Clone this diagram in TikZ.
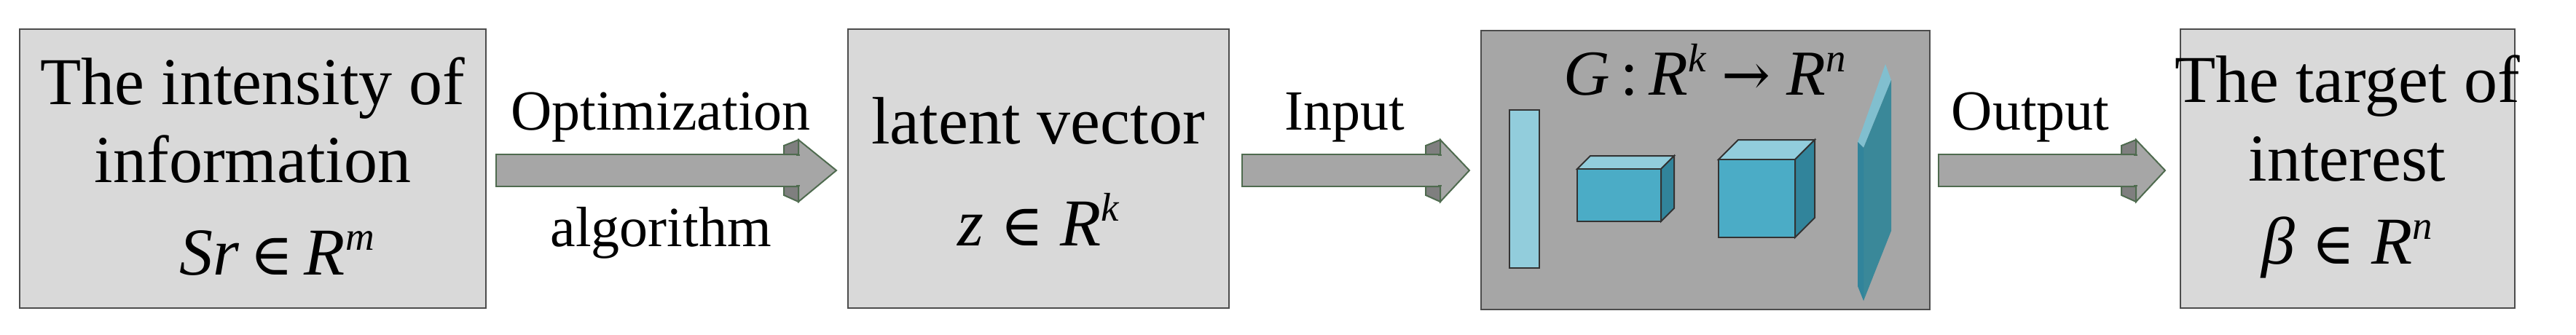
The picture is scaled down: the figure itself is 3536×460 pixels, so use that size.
\documentclass[tikz,border=0pt]{standalone}
\usepackage{fontspec}
\setmainfont{Liberation Serif}
\newfontfamily\symf{DejaVu Serif}
\definecolor{boxl}{HTML}{D9D9D9}
\definecolor{boxd}{HTML}{A6A6A6}
\definecolor{arrb}{HTML}{4F6B4F}
\definecolor{notch}{HTML}{7F7F7F}
\definecolor{cfront}{HTML}{4BACC6}
\definecolor{ctop}{HTML}{92CDDC}
\definecolor{cside}{HTML}{31849B}
\definecolor{slab}{HTML}{3A8899}
\begin{document}
\begin{tikzpicture}[x=1pt,y=-1pt,
  box/.style={draw=black!70,line width=2pt,fill=boxl},
  big/.style={font=\fontsize{92}{100}\selectfont,anchor=base,inner sep=0pt},
  lab/.style={font=\fontsize{78}{90}\selectfont,anchor=base,inner sep=0pt},
  arrshaft/.style={draw=arrb,line width=2pt,fill=boxd},
  cube/.style={draw=black!80,line width=2pt}]
\useasboundingbox (0,0) rectangle (3536,460);
\fill[white] (0,0) rectangle (3536,460);
% boxes
\draw[box] (27,40) rectangle (667,423);
\draw[box] (1164,40) rectangle (1687,423);
\draw[box,fill=boxd] (2033,42) rectangle (2649,425);
\draw[box] (2993,40) rectangle (3452,423);
\coordinate (b1) at (27,40);
% arrows
\foreach \s/\n/\t in {681/1096/1148, 1705/1977/2017, 2661/2932/2972}{
  \draw[arrshaft] (\s,212) rectangle (\n,256);
  \draw[draw=arrb,line width=2pt,fill=notch] (\n-20,200) -- (\n,192) -- (\n,212) -- (\n-20,212) -- cycle;
  \draw[draw=arrb,line width=2pt,fill=notch] (\n-20,256) -- (\n,256) -- (\n,277) -- (\n-20,268) -- cycle;
  \draw[draw=arrb,line width=2pt,fill=boxd] (\n,192) -- (\t,234) -- (\n,277) -- cycle;
  \draw[arrb,line width=2pt,fill=boxd] (\n-2,213) rectangle (\n+1,255);
  \fill[boxd] (\n-3,214) rectangle (\n+2,254);
}
% texts box1
\node[big] (t1a) at (347,143) {The intensity of};
\node[big] (t1b) at (347,250) {information};
\node[big] (t1c) at (380,377) {\itshape Sr\,{\upshape\symf\fontsize{80}{90}\selectfont ∈}\,R\raisebox{34pt}{\fontsize{55}{60}\selectfont m}};
% labels
\node[lab] (l1) at (907,178) {Optimization};
\node[lab] (l2) at (907,338) {algorithm};
\node[lab] (l3) at (1846,178) {Input};
\node[lab] (l4) at (2787,178) {Output};
% box2
\node[big] (t2a) at (1425,197) {latent vector};
\node[big] (t2b) at (1425,337) {\itshape z {\upshape\symf\fontsize{80}{90}\selectfont ∈} R\raisebox{34pt}{\fontsize{55}{60}\selectfont k}};
% box4
\node[big] (t4a) at (3222,140) {The target of};
\node[big] (t4b) at (3222,248) {interest};
\node[big] (t4c) at (3222,362) {\itshape β {\upshape\symf\fontsize{80}{90}\selectfont ∈} R\raisebox{34pt}{\fontsize{55}{60}\selectfont n}};
% G title
\node[big,font=\fontsize{88}{95}\selectfont] (g) at (2340,130) {\itshape G\,{\upshape:}\,R\raisebox{32pt}{\fontsize{55}{60}\selectfont k} {\upshape\symf\fontsize{80}{90}\selectfont →} R\raisebox{32pt}{\fontsize{55}{60}\selectfont n}};
% layers
\draw[cube,fill=ctop] (2072,151) rectangle (2113,368);
\draw[cube,fill=ctop] (2165,232) -- (2183,214) -- (2298,214) -- (2280,232) -- cycle;
\draw[cube,fill=cside] (2280,232) -- (2298,214) -- (2298,286) -- (2280,304) -- cycle;
\draw[cube,fill=cfront] (2165,232) rectangle (2280,304);
\draw[cube,fill=ctop] (2359,219) -- (2386,192) -- (2491,192) -- (2464,219) -- cycle;
\draw[cube,fill=cside] (2464,219) -- (2491,192) -- (2491,299) -- (2464,326) -- cycle;
\draw[cube,fill=cfront] (2359,219) rectangle (2464,326);
\fill[ctop!80!slab] (2550,195) -- (2588,88) -- (2596,110) -- (2558,203) -- cycle;
\fill[slab] (2558,203) -- (2596,110) -- (2596,317) -- (2558,413) -- cycle;
\fill[cside] (2550,195) -- (2558,203) -- (2558,413) -- (2550,393) -- cycle;
\end{tikzpicture}
\end{document}
